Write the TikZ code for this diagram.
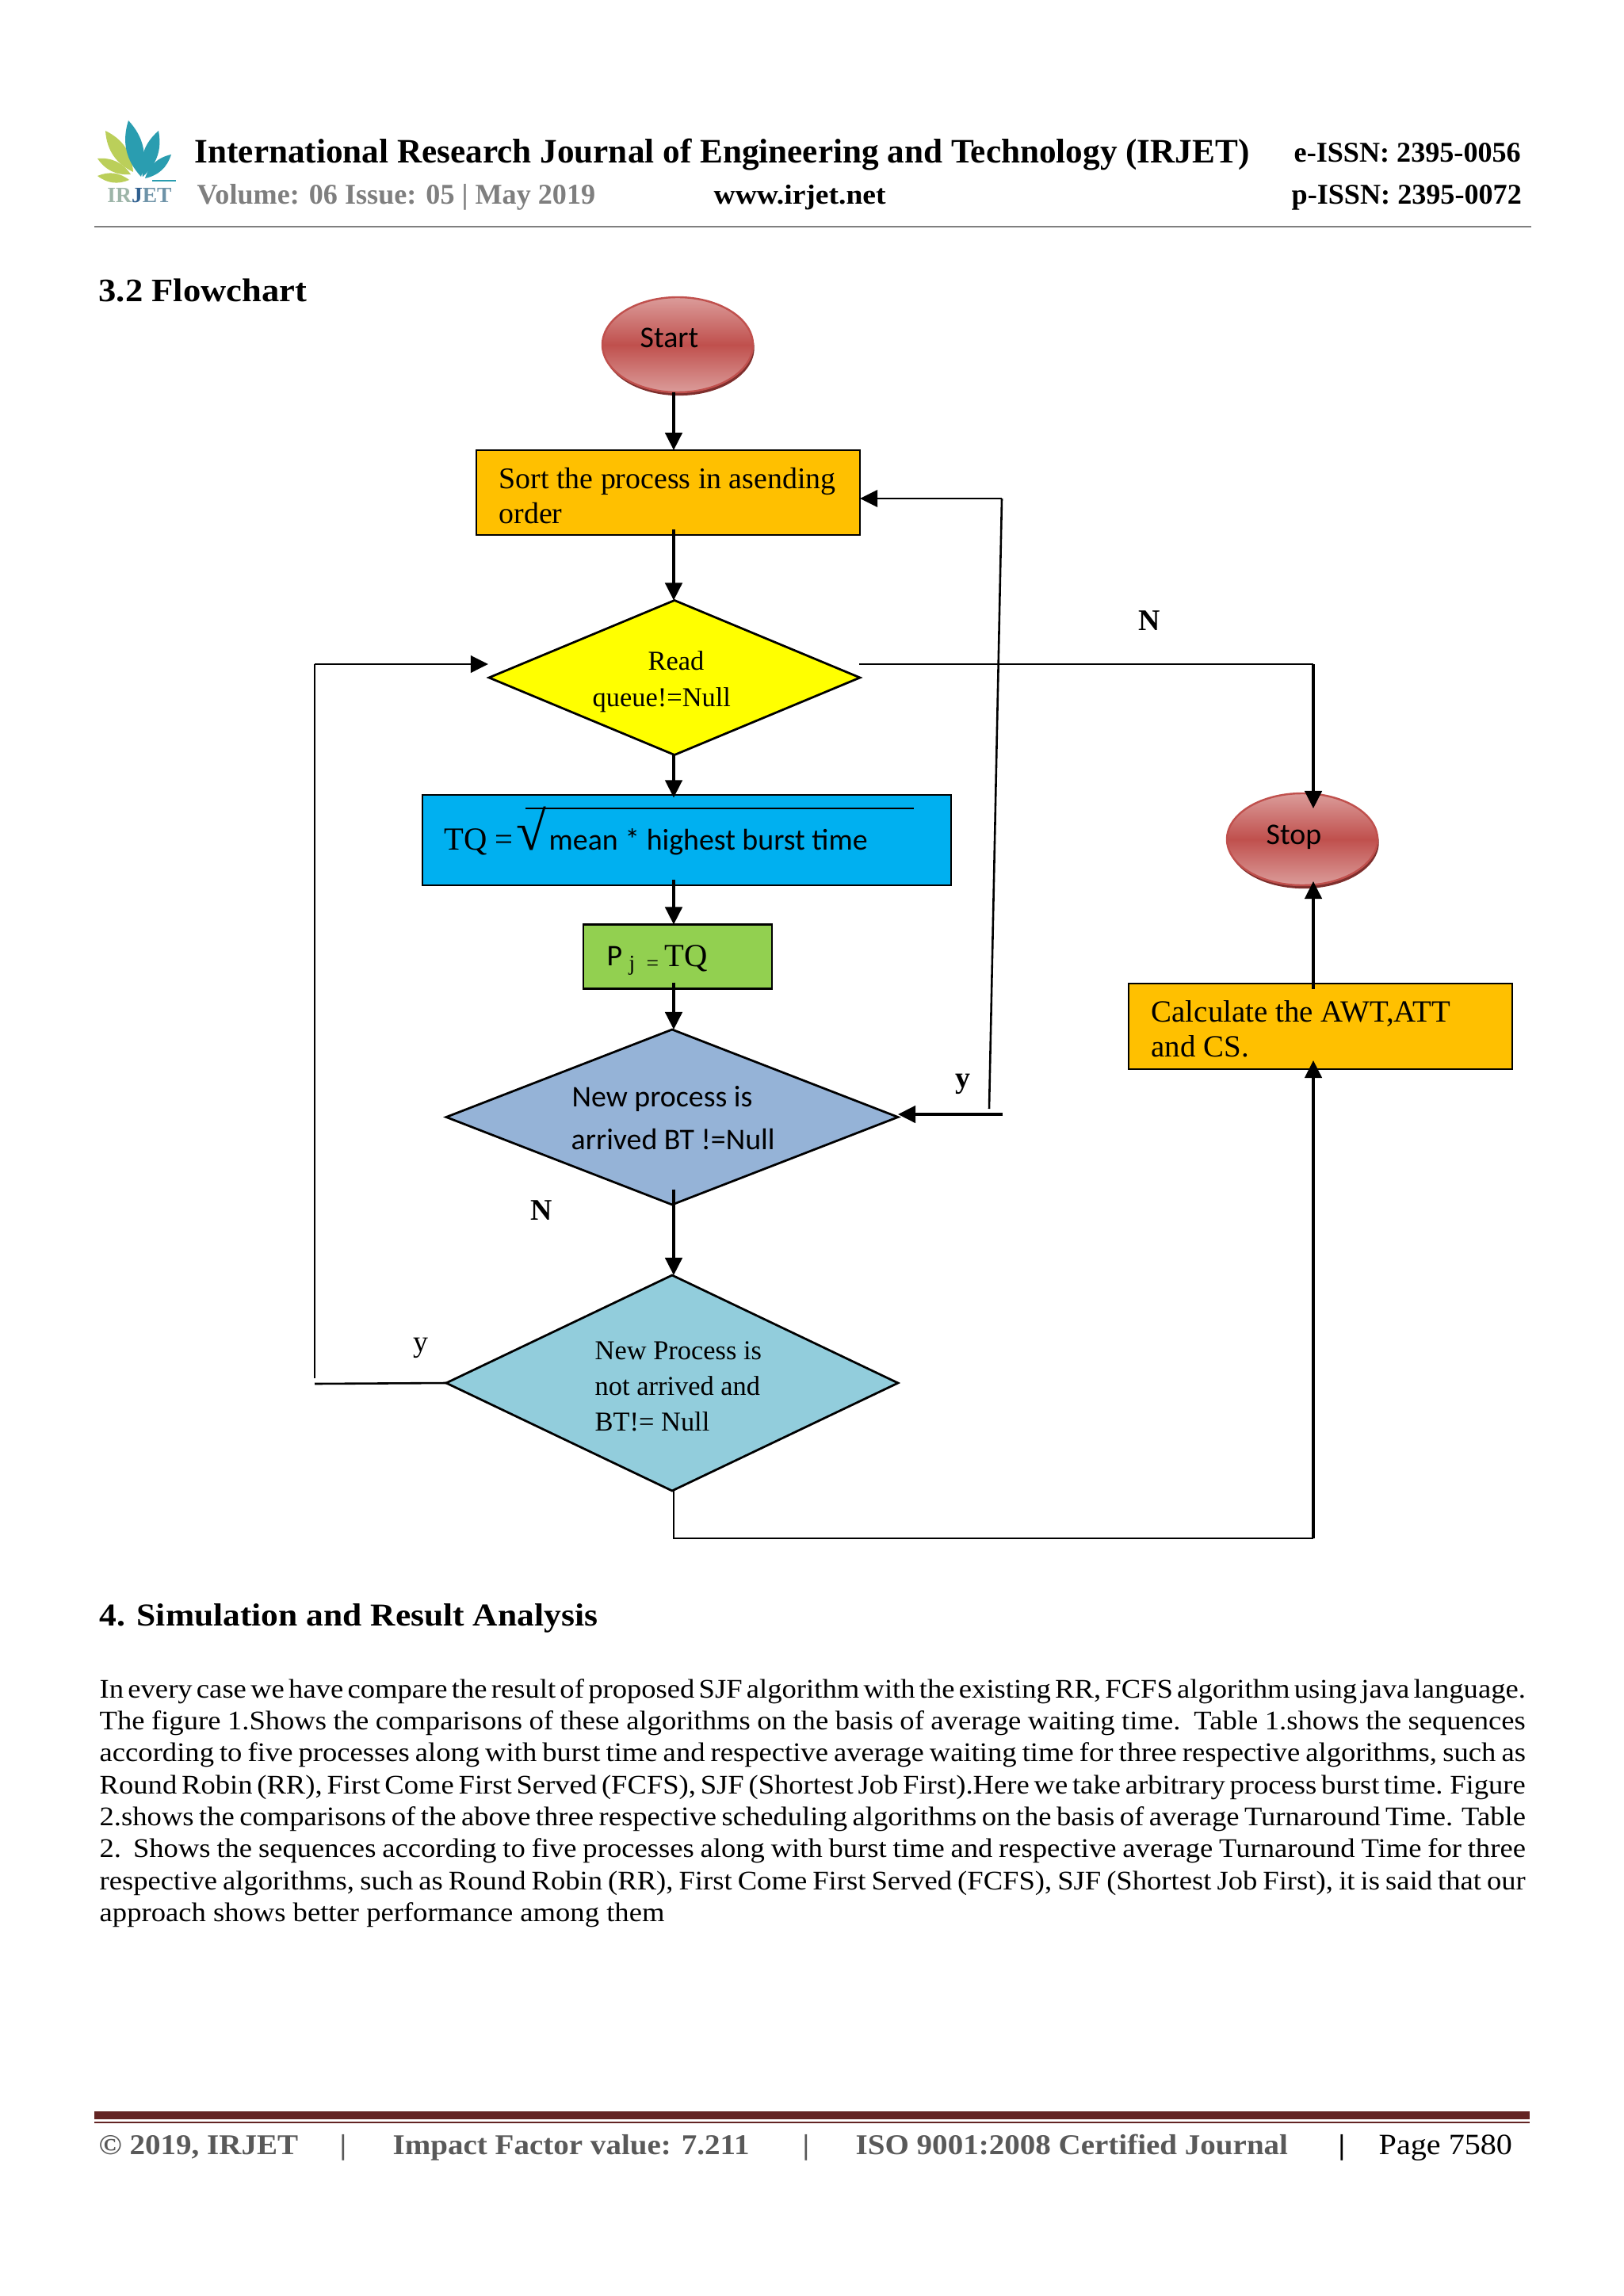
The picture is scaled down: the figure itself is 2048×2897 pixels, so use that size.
\documentclass[tikz,border=0pt]{standalone}
\usepackage{fontspec}
\setmainfont{Liberation Serif}
\newfontfamily\pagefont[FakeStretch=1.08]{Liberation Serif}
\newfontfamily\calibrifont{Carlito}
\usetikzlibrary{arrows.meta,shapes.geometric,shadows}
\def\unitpx{0.29053pt}
\definecolor{boxorange}{HTML}{FFC000}
\definecolor{boxblue}{HTML}{00B0F0}
\definecolor{boxgreen}{HTML}{92D050}
\definecolor{boxyellow}{HTML}{FFFF00}
\definecolor{boxsteel}{HTML}{95B3D7}
\definecolor{boxteal}{HTML}{92CDDC}
\definecolor{ovalmid}{HTML}{C0504D}
\definecolor{ovallight}{HTML}{DB9C9A}
\definecolor{ovaldark}{HTML}{7E2F2D}
\definecolor{footred}{HTML}{632423}
\definecolor{footgrey}{HTML}{595959}
\definecolor{headgrey}{HTML}{7F7F7F}
\definecolor{leafgreen}{HTML}{BBCF5A}
\definecolor{leafteal}{HTML}{2A9DB0}
\tikzset{
  sized/.style 2 args={minimum width=#1*\unitpx,minimum height=#2*\unitpx,inner sep=0pt,outer sep=0pt},
  procbox/.style={draw=black,line width=.8pt,rectangle},
  testbox/.style={draw=black,line width=.8pt,diamond},
  ovalbox/.style={ellipse,draw=ovalmid,line width=.7pt,top color=ovallight,bottom color=ovallight,middle color=ovalmid,
    general shadow={shadow xshift=.5pt,shadow yshift=-1.2pt,fill=ovaldark}},
  flowline/.style={line width=1.05pt,-{Triangle[length=6.4pt,width=6.2pt]}},
  thinflow/.style={line width=.75pt,-{Triangle[length=6.4pt,width=6.2pt]}},
  plainline/.style={line width=.75pt},
  serifline/.style={anchor=base west,inner sep=0pt,font=\fontsize{11}{13}\selectfont},
  sansline/.style={anchor=base west,inner sep=0pt,font=\calibrifont\fontsize{11}{13}\selectfont},
  smallserif/.style={anchor=base west,inner sep=0pt,font=\fontsize{10}{12}\selectfont},
  pagebold/.style={anchor=base west,inner sep=0pt,font=\pagefont\bfseries\fontsize{12}{14}\selectfont},
  headbold/.style={anchor=base west,inner sep=0pt,font=\bfseries\fontsize{10.5}{12}\selectfont},
  bodyline/.style={anchor=base west,inner sep=0pt,font=\pagefont\fontsize{9.85}{11}\selectfont},
  footline/.style={anchor=base west,inner sep=0pt,text=footgrey,font=\pagefont\bfseries\fontsize{10.5}{12}\selectfont},
  flagtext/.style={anchor=center,inner sep=0pt,font=\bfseries\fontsize{11}{13}\selectfont}
}
\newcommand{\fullline}[1]{\hbox to 522.7pt{\spaceskip=.17em plus 1em minus .03em #1}}
\begin{document}
\begin{tikzpicture}[x=\unitpx,y=-\unitpx]
\useasboundingbox (0,0) rectangle (2048,2897);
\fill[white] (0,0) rectangle (2048,2897);
% header
\foreach \tx/\ty/\bx/\by/\leafcol in {133/165/168/217/leafgreen,123/200/165/220/leafgreen,123/222/163/227/leafgreen,162/152/178/223/leafteal,200/165/180/223/leafteal,216/195/183/225/leafteal}
  \fill[\leafcol] (\tx,\ty) to[bend left=30] (\bx,\by) to[bend left=30] (\tx,\ty);
\draw[leafteal,line width=.6pt] (192,228) -- (222,228);
\node[anchor=base,inner sep=0pt,font=\bfseries\fontsize{8}{9}\selectfont] (logoname) at (176,256) {\textcolor[HTML]{9DB5A8}{IR}\textcolor[HTML]{2F5F8F}{J}\textcolor[HTML]{6E93A8}{ET}};
\node[headbold,font=\bfseries\fontsize{12.55}{14}\selectfont] (journal) at (245,206) {International Research Journal of Engineering and Technology (IRJET)};
\node[headbold] (eissn) at (1632,205) {e-ISSN: 2395-0056};
\node[headbold,text=headgrey] (volume) at (248,258) {Volume: 06 Issue: 05 | May 2019};
\node[pagebold,font=\pagefont\bfseries\fontsize{10.1}{12}\selectfont] (site) at (900,258) {www.irjet.net};
\node[headbold] (pissn) at (1629,258) {p-ISSN: 2395-0072};
\draw[headgrey,line width=.8pt] (119,286) -- (1932,286);
\node[pagebold] (flowhead) at (124,381) {3.2 Flowchart};
% flowchart shapes
\coordinate (spine) at (850,0);
\node[ovalbox,sized={190}{120}] (start) at (855,435) {};
\node[procbox,fill=boxorange,sized={484}{107}] (sort) at (843,621.5) {};
\node[testbox,fill=boxyellow,sized={468}{195}] (read) at (851,855) {};
\node[procbox,fill=boxblue,sized={667}{114}] (quantum) at (866.5,1060) {};
\node[procbox,fill=boxgreen,sized={238}{81}] (assign) at (855,1207) {};
\node[testbox,fill=boxsteel,sized={570}{221}] (arrived) at (848,1409.5) {};
\node[testbox,fill=boxteal,sized={570}{272}] (notarrived) at (848,1745) {};
\node[ovalbox,sized={190}{116}] (stop) at (1643,1059) {};
\node[procbox,fill=boxorange,sized={484}{108}] (calc) at (1666,1295) {};
% texts in the shapes
\node[sansline] (starttext) at (807,439) {Start};
\node[serifline] (sorta) at (629,616) {Sort the process in asending};
\node[serifline] (sortb) at (629,660) {order};
\node[smallserif] (reada) at (817,845) {Read};
\node[smallserif] (readb) at (747,891) {queue!=Null};
\node[serifline,font=\fontsize{11.8}{13}\selectfont] (tqa) at (560,1072) {TQ =};
\node[anchor=base west,inner sep=0pt,font=\fontsize{20}{22}\selectfont] (tqroot) at (651,1072) {√};
\draw[line width=.7pt] (663,1020) -- (1153,1020);
\node[sansline] (tqb) at (692,1072) {mean * highest burst time};
\node[sansline] (pjp) at (765,1218) {P};
\node[anchor=base west,inner sep=0pt,font=\fontsize{8}{9}\selectfont] (pjj) at (793,1224) {j};
\node[anchor=base west,inner sep=0pt,font=\fontsize{8}{9}\selectfont] (pjeq) at (815,1224) {=};
\node[serifline,font=\fontsize{11.8}{13}\selectfont] (pjtq) at (838,1219) {TQ};
\node[sansline] (newa) at (721,1396) {New process is};
\node[sansline] (newb) at (720,1450) {arrived BT !=Null};
\node[smallserif] (nota) at (750,1715) {New Process is};
\node[smallserif] (notb) at (750,1760) {not arrived and};
\node[smallserif] (notc) at (750,1805) {BT!= Null};
\node[sansline] (stoptext) at (1597,1065) {Stop};
\node[serifline,font=\fontsize{11.3}{13}\selectfont] (calca) at (1452,1289) {Calculate the AWT,ATT};
\node[serifline,font=\fontsize{11.3}{13}\selectfont] (calcb) at (1452,1333) {and CS.};
% flags
\node[flagtext] (flagn) at (1450,783) {N};
\node[flagtext] (flagy) at (1215,1368) {y};
\node[flagtext] (flagnn) at (683,1527) {N};
\node[flagtext,font=\fontsize{11}{13}\selectfont] (flagyy) at (531,1701) {y};
% connectors
\coordinate (loopend) at (1265,1406);
\coordinate (looptop) at (1264,629);
\coordinate (loopfoot) at (1248,1399);
\coordinate (leftfoot) at (397,1739);
\coordinate (leftmid) at (397,1746);
\coordinate (lefttop) at (397,838);
\coordinate (readin) at (616,838);
\coordinate (readout) at (1084,838);
\coordinate (stopin) at (1657,1020);
\coordinate (stopout) at (1657,1112);
\coordinate (calcout) at (1657,1248);
\coordinate (calcin) at (1657,1338);
\coordinate (bottomleft) at (850,1941);
\draw[flowline] (start.south -| spine) -- (sort.north -| spine);
\draw[flowline] ([yshift=2pt]sort.south -| spine) -- (read.north -| spine);
\draw[flowline] (read.south -| spine) -- ([yshift=-1pt]quantum.north -| spine);
\draw[flowline] ([yshift=2pt]quantum.south -| spine) -- (assign.north -| spine);
\draw[flowline] ([yshift=2.3pt]assign.south -| spine) -- (arrived.north -| spine);
\draw[flowline] ([yshift=5.6pt]arrived.south -| spine) -- (notarrived.north -| spine);
\draw[thinflow] (looptop) -- (sort.east |- looptop);
\draw[plainline] (looptop) -- (loopfoot);
\draw[flowline] (loopend) -- (arrived.east |- loopend);
\draw[thinflow] (lefttop) -- (readin);
\draw[plainline] (lefttop) -- (leftfoot);
\draw[plainline] (leftmid) -- (notarrived.west);
\draw[plainline] (readout) -| (stopin |- readout);
\draw[flowline] (stopin |- readout) -- (stopin);
\draw[flowline] (calcout) -- (stopout);
\draw[plainline] (notarrived.south -| spine) -- (bottomleft) -- (bottomleft -| calcin);
\draw[flowline] (bottomleft -| calcin) -- (calcin);
% section text
\node[pagebold,font=\pagefont\bfseries\fontsize{11.7}{14}\selectfont] (resulthead) at (125,2051) {4. Simulation and Result Analysis};
\node[bodyline] (bodya) at (125,2142) {\fullline{In every case we have compare the result of proposed SJF algorithm with the existing RR, FCFS algorithm using java language.}};
\node[bodyline] (bodyb) at (125,2182) {\fullline{The figure 1.Shows the comparisons of these algorithms on the basis of average waiting time. Table 1.shows the sequences}};
\node[bodyline] (bodyc) at (125,2222) {\fullline{according to five processes along with burst time and respective average waiting time for three respective algorithms, such as}};
\node[bodyline] (bodyd) at (125,2263) {\fullline{Round Robin (RR), First Come First Served (FCFS), SJF (Shortest Job First).Here we take arbitrary process burst time. Figure}};
\node[bodyline] (bodye) at (125,2303) {\fullline{2.shows the comparisons of the above three respective scheduling algorithms on the basis of average Turnaround Time. Table}};
\node[bodyline] (bodyf) at (125,2343) {\fullline{2. Shows the sequences according to five processes along with burst time and respective average Turnaround Time for three}};
\node[bodyline] (bodyg) at (125,2384) {\fullline{respective algorithms, such as Round Robin (RR), First Come First Served (FCFS), SJF (Shortest Job First), it is said that our}};
\node[bodyline] (bodyh) at (125,2424) {approach shows better performance among them};
% footer
\draw[footred,line width=2.9pt] (119,2669) -- (1930,2669);
\draw[footred,line width=.6pt] (119,2678) -- (1930,2678);
\node[footline] (footcopy) at (124,2718) {© 2019, IRJET};
\node[footline] (footbara) at (428,2718) {|};
\node[footline] (footimpact) at (495,2718) {Impact Factor value: 7.211};
\node[footline] (footbarb) at (1012,2718) {|};
\node[footline] (footiso) at (1079,2718) {ISO 9001:2008 Certified Journal};
\node[footline,text=black] (footbarc) at (1688,2718) {|};
\node[footline,text=black,font=\pagefont\fontsize{10.8}{12}\selectfont] (footpage) at (1739,2718) {Page 7580};
\end{tikzpicture}
\end{document}
